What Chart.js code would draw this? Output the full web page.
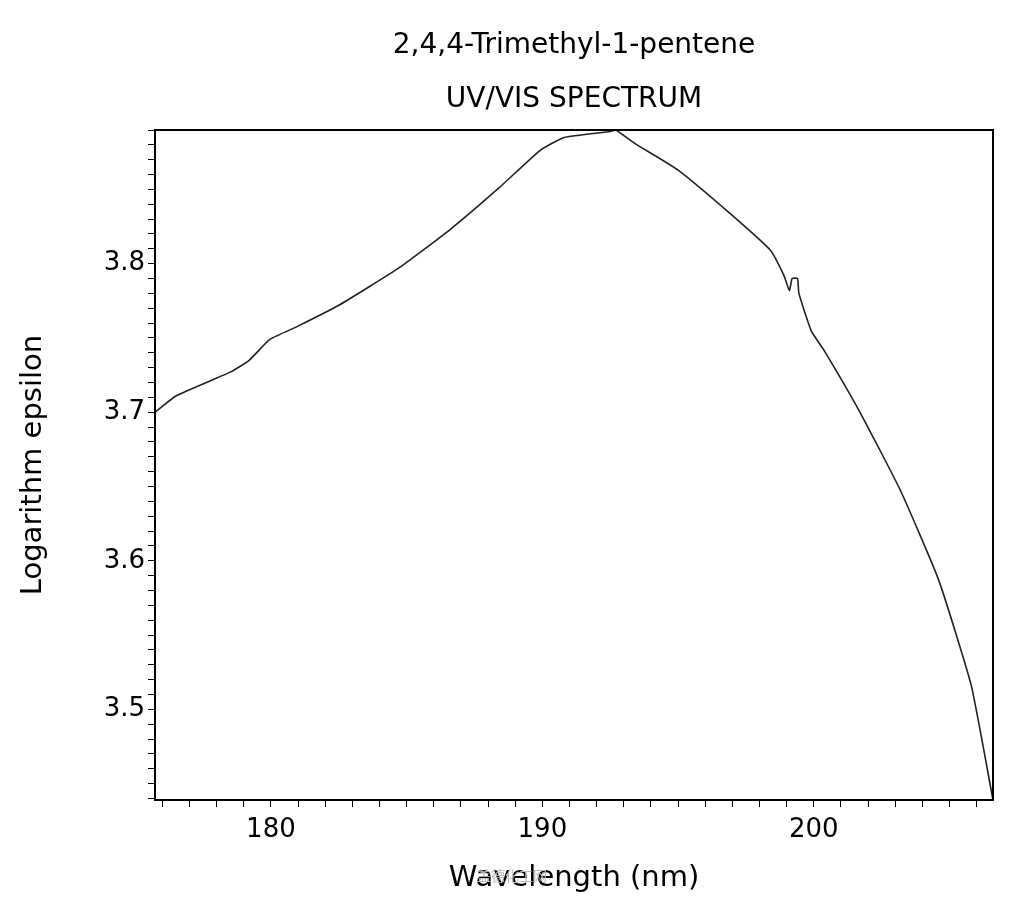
<!DOCTYPE html>
<html><head><meta charset="utf-8">
<script src="https://cdn.jsdelivr.net/npm/chart.js@4"></script>
<style>html,body{margin:0;background:#fff}#w{width:1024px;height:900px;position:relative}</style>
</head><body><div id="w"><canvas id="c"></canvas></div>
<script>
const wavelengths=[175.73,176.5,178.5,179.2,179.96,181.0,182.5,184.7,186.6,188.4,189.9,190.8,192.5,192.7,193.4,195.0,196.9,198.4,198.9,199.1,199.2,199.4,199.45,199.9,200.4,201.7,203.2,204.6,205.8,206.6];
const logEps=[3.700,3.711,3.727,3.735,3.749,3.758,3.772,3.797,3.823,3.851,3.876,3.885,3.889,3.890,3.881,3.863,3.834,3.809,3.792,3.782,3.790,3.790,3.780,3.755,3.741,3.700,3.647,3.587,3.516,3.439];
const titleLines=["2,4,4-Trimethyl-1-pentene","UV/VIS SPECTRUM"];
const F="'DejaVu Sans', sans-serif";
const deco={id:'deco',afterDraw(ch){const c=ch.ctx,a=ch.chartArea;c.save();c.strokeStyle='#000';c.lineWidth=2;c.strokeRect(a.left,a.top,a.right-a.left,a.bottom-a.top);
c.fillStyle='#000';c.font='28px '+F;c.textAlign='center';c.textBaseline='middle';c.fillText(titleLines[0],574,46);c.fillText(titleLines[1],574,100);
c.fillStyle='#bbb';c.font='14px "Noto Sans CJK SC"';c.fillText('盖德化工网',512,876);c.restore();}};
new Chart(document.getElementById('c'),{type:'line',
data:{datasets:[{data:wavelengths.map((x,i)=>({x,y:logEps[i]})),borderColor:'#222',borderWidth:1.6,pointRadius:0,tension:0.15,fill:false}]},
options:{responsive:true,maintainAspectRatio:false,animation:false,clip:false,
layout:{padding:{top:130,right:31,left:12,bottom:0}},
plugins:{legend:{display:false},tooltip:{enabled:false}},
scales:{
x:{type:'linear',min:175.73,max:206.6,afterFit(s){s.height=100;},
 afterBuildTicks(s){const t=[];for(let v=176;v<=206;v++)t.push({value:v});s.ticks=t;},
 grid:{drawOnChartArea:false,color:'#000',tickLength:7},border:{color:'#000',width:2},
 ticks:{autoSkip:false,maxRotation:0,color:'#000',font:{family:F,size:26},padding:8,callback:v=>v%10===0?v:''},
 title:{display:true,text:'Wavelength (nm)',color:'#000',font:{family:F,size:29},padding:{top:4}}},
y:{min:3.439,max:3.890,afterFit(s){s.width=143;},
 afterBuildTicks(s){const t=[];for(let k=344;k<=389;k++)t.push({value:k/100});s.ticks=t;},
 grid:{drawOnChartArea:false,color:'#000',tickLength:7},border:{color:'#000',width:2},
 ticks:{autoSkip:false,color:'#000',font:{family:F,size:26},callback:v=>Math.round(v*100)%10===0?v.toFixed(1):''},
 title:{display:true,text:'Logarithm epsilon',color:'#000',font:{family:F,size:29},padding:{bottom:10}}}}},
plugins:[deco]});
</script></body></html>
